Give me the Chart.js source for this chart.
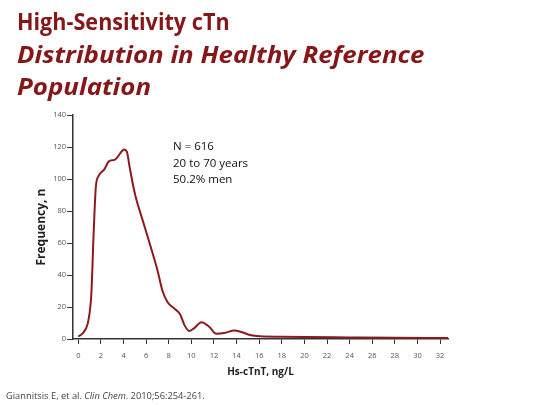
<!DOCTYPE html>
<html>
<head>
<meta charset="utf-8">
<script src="https://cdn.jsdelivr.net/npm/chart.js@4"></script>
<style>
  html,body{margin:0;padding:0;background:#fff;}
  #wrap{position:relative;width:540px;height:405px;overflow:hidden;font-family:"Open Sans",Lato,sans-serif;}
  canvas{position:absolute;left:0;top:0;}
  .t{position:absolute;left:17px;color:#861719;font-weight:bold;font-size:22.5px;white-space:nowrap;line-height:1;transform-origin:0 0;font-variant-ligatures:none;}
  .ann{position:absolute;left:173px;font-size:11.5px;color:#111;line-height:16.5px;top:138px;}
  .foot{position:absolute;left:6px;top:389px;font-size:9.3px;color:#444;white-space:nowrap;}
</style>
</head>
<body>
<div id="wrap">
  <canvas id="c" width="540" height="405"></canvas>
  <div class="t" style="top:11px;transform:scaleX(0.96);">High-Sensitivity cTn</div>
  <div class="t" style="top:44.3px;font-style:italic;transform:scaleX(1.15);">Distribution in Healthy Reference</div>
  <div class="t" style="top:75.7px;font-style:italic;transform:scaleX(1.15);">Population</div>
  <div class="ann">N = 616<br>20 to 70 years<br>50.2% men</div>
  <div class="foot">Giannitsis E, et al. <i>Clin Chem</i>. 2010;56:254-261.</div>
</div>
<script>
const hsTnT = [0, 0.5, 0.9, 1.15, 1.35, 1.55, 1.8, 2.0, 2.3, 2.7, 3.2, 3.5, 3.8, 4.05, 4.3, 4.55, 5.0, 5.7, 6.3, 7.0, 7.45, 7.9, 8.5, 9.0, 9.4, 9.8, 10.2, 10.9, 11.6, 12.2, 12.9, 13.8, 14.4, 15.3, 16.1, 18, 20, 24, 28, 32.8];
const frequency = [1.5, 4.5, 12, 28, 65, 95, 102, 104, 106, 111, 112, 114, 117, 118.5, 117, 107, 91, 74, 60, 43, 30, 23, 19, 15.5, 8.5, 5, 6.5, 10.5, 7.5, 3.3, 3.7, 5.3, 4.4, 2.3, 1.7, 1.4, 1.2, 1.0, 0.8, 0.6];
const xTickValues = [0,2,4,6,8,10,12,14,16,18,20,22,24,26,28,30,32];
const yTickValues = [0,20,40,60,80,100,120,140];

const points = hsTnT.map((x,i)=>({x:x, y:frequency[i]}));

new Chart(document.getElementById('c'), {
  type: 'line',
  data: { datasets: [{
    data: points,
    borderColor: '#8a1a1c',
    borderWidth: 2,
    pointRadius: 0,
    fill: false,
    cubicInterpolationMode: 'monotone'
  }]},
  options: {
    responsive: false,
    animation: false,
    devicePixelRatio: 1,
    layout: { padding: { left: 30, right: 92, top: 115, bottom: 25 } },
    plugins: { legend: { display: false }, tooltip: { enabled: false } },
    scales: {
      x: {
        type: 'linear',
        min: -0.47, max: 32.7,
        afterBuildTicks: s => { s.ticks = xTickValues.map(v=>({value:v})); },
        afterFit: s => { s.height = 41; },
        border: { display: true, color: '#333', width: 1.5 },
        grid: { drawOnChartArea: false, drawTicks: true, tickLength: 5, color: '#333', lineWidth: 1 },
        ticks: { padding: 7, color: '#555', font: { family: 'Open Sans', size: 7.5 }, maxRotation: 0, autoSkip: false },
        title: { display: true, text: 'Hs-cTnT, ng/L', color: '#222', font: { family: 'Open Sans', size: 10, weight: 'bold' }, padding: { top: 0, bottom: 2 } }
      },
      y: {
        min: 0, max: 140,
        afterBuildTicks: s => { s.ticks = yTickValues.map(v=>({value:v})); },
        afterFit: s => { s.width = 43; },
        border: { display: true, color: '#333', width: 1.5 },
        grid: { drawOnChartArea: false, drawTicks: true, tickLength: 6, color: '#333', lineWidth: 1 },
        ticks: { padding: 1, color: '#555', font: { family: 'Open Sans', size: 7.5 } },
        title: { display: true, text: 'Frequency, n', color: '#222', font: { family: 'Open Sans', size: 12, weight: 'bold' }, padding: { top: 4, bottom: 0 } }
      }
    }
  }
});
</script>
</body>
</html>
